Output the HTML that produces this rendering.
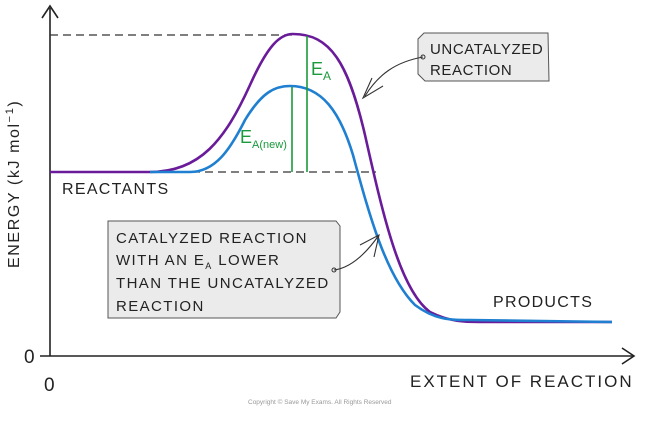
<!DOCTYPE html>
<html><head><meta charset="utf-8"><style>
body{margin:0;background:#fff;}
svg text{font-family:"Liberation Sans",sans-serif;}
</style></head><body>
<svg width="650" height="419" viewBox="0 0 650 419" xmlns="http://www.w3.org/2000/svg">
<!-- axes -->
<g stroke="#222" stroke-width="1.6" fill="none">
<line x1="50" y1="356" x2="50" y2="8"/>
<polyline points="42,18 50,6 58,18"/>
<line x1="40" y1="356" x2="633" y2="356"/>
<polyline points="622,348 634,356 622,364"/>
</g>
<text x="19" y="268" font-size="16" fill="#222" transform="rotate(-90 19 268)" letter-spacing="1.6">ENERGY  (kJ mol<tspan dy="-6" font-size="11">−1</tspan><tspan dy="6">)</tspan></text>
<text x="24" y="363" font-size="19" fill="#222">0</text>
<text x="44" y="391" font-size="19" fill="#222">0</text>
<text x="410" y="387" font-size="17" fill="#222" letter-spacing="2">EXTENT OF REACTION</text>
<text x="248" y="404" font-size="6.5" fill="#999">Copyright © Save My Exams. All Rights Reserved</text>
<!-- dashed -->
<g stroke="#333" stroke-width="1.3" stroke-dasharray="8,5" fill="none">
<line x1="50" y1="35" x2="293" y2="35"/>
<line x1="192" y1="172" x2="376" y2="172"/>
</g>
<!-- curves -->
<path d="M50,172 L150,172 C200,172 225,140 250,85 C268,45 280,34 293,34 C330,34 348,62 365,135 C383,215 400,290 430,312 C450,322 465,322 480,322 L612,322" stroke="#6a1b9a" stroke-width="2.6" fill="none"/>
<path d="M150,172 L190,172 C215,172 230,150 245,120 C262,92 275,86 290,86 C322,86 340,112 353,155 C368,210 385,275 415,305 C435,320 450,320 470,320 L612,322" stroke="#1f7fd0" stroke-width="2.6" fill="none"/>
<!-- green -->
<g stroke="#1a9a3a" stroke-width="1.6">
<line x1="307" y1="36" x2="307" y2="172"/>
<line x1="292" y1="87" x2="292" y2="172"/>
</g>
<text x="311" y="75" font-size="18" fill="#1a9a3a">E<tspan font-size="12" dy="5">A</tspan></text>
<text x="240" y="143" font-size="18" fill="#1a9a3a">E<tspan font-size="11" dy="5">A(new)</tspan></text>
<text x="62" y="194" font-size="16" fill="#222" letter-spacing="1.3">REACTANTS</text>
<text x="493" y="307" font-size="16" fill="#222" letter-spacing="1.3">PRODUCTS</text>
<!-- boxes -->
<path d="M424,33 L548,33 L549,81 L425,81 L418,74 L418,39 Z" fill="#ebebeb" stroke="#555" stroke-width="1"/>
<text x="430" y="54" font-size="15" fill="#222" letter-spacing="0.6">UNCATALYZED</text>
<text x="430" y="75" font-size="15" fill="#222" letter-spacing="0.6">REACTION</text>
<path d="M423,57 C395,62 378,75 365,96" stroke="#333" stroke-width="1.1" fill="none"/>
<circle cx="423" cy="57" r="2" fill="none" stroke="#333"/>
<polyline points="372,78 363,98 383,86" stroke="#333" stroke-width="1.1" fill="none"/>
<path d="M108,221 L336,221 L340,226 L340,312 L336,318 L108,318 Z" fill="#ebebeb" stroke="#555" stroke-width="1"/>
<g font-size="15" fill="#222" letter-spacing="1.4">
<text x="116" y="243">CATALYZED  REACTION</text>
<text x="116" y="265">WITH  AN  E<tspan font-size="9" dy="4">A</tspan><tspan dy="-4">  LOWER</tspan></text>
<text x="116" y="288">THAN  THE  UNCATALYZED</text>
<text x="116" y="311">REACTION</text>
</g>
<path d="M334,270 C350,268 365,255 379,235" stroke="#333" stroke-width="1.1" fill="none"/>
<circle cx="334" cy="270" r="2" fill="none" stroke="#333"/>
<polyline points="360,245 379,235 374,257" stroke="#333" stroke-width="1.1" fill="none"/>
</svg>
</body></html>
